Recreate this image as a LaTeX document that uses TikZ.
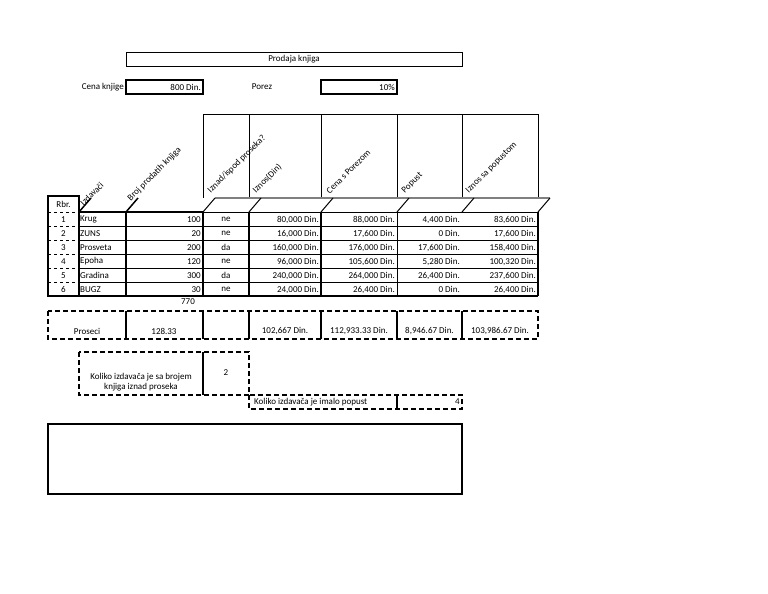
\documentclass[tikz,border=0pt]{standalone}
\usepackage{fontspec}
\setmainfont{Carlito}
\begin{document}
\begin{tikzpicture}[x=1pt,y=-1pt,font=\fontsize{9}{10}\selectfont,
  thk/.style={line width=1.2pt},
  dsh/.style={line width=1.2pt,dash pattern=on 5pt off 3pt},
  thn/.style={line width=0.5pt},
  hd/.style={rotate=45,anchor=south west,inner sep=1pt}]
\useasboundingbox (0,0) rectangle (768,594);
% title
\draw[thn] (126,52) rectangle (462,66);
\node (title) at (294,59) {Prodaja knjiga};
\node[anchor=east,inner sep=1pt] (cl) at (125,87) {Cena knjige};
\draw[thk] (126,80) rectangle (203,94);
\node[anchor=east,inner sep=1pt] (cv) at (202,87) {800 Din.};
\node (pl) at (262,87) {Porez};
\draw[thk] (321,80) rectangle (397,94);
\node[anchor=east,inner sep=1pt] (pv) at (396,87) {10\%};
% header boxes
\foreach \x in {203,249,321,397,462,538} \draw[thn] (\x,114) -- (\x,198);
\draw[thn] (203,114) -- (538,114);
\draw[gray,line width=1.5pt] (215,198) -- (550,198);
\foreach \x in {203,249,321,397,462,538} \draw[line width=1pt] (\x,212) -- (\x+12,198);
\foreach \x in {79,126} \draw[line width=1.5pt] (\x,212) -- (\x+12,198);
\node[hd] (h1) at (84,208) {Izdavači};
\node[hd] (h2) at (132,204) {Broj prodatih knjiga};
\node[hd] (h3) at (212,196) {Iznad/ispod proseka?};
\node[hd] (h4) at (257,196) {Iznos(Din)};
\node[hd] (h5) at (330,196) {Cena s Porezom};
\node[hd] (h6) at (406,196) {Popust};
\node[hd] (h7) at (470,196) {Iznos sa popustom};
\draw[thk] (48,196) rectangle (79,296);
\node (rbr) at (63.5,204) {Rbr.};
% table grid
\foreach \y in {226,240,254,268,282} \draw[thn] (79,\y) -- (538,\y);
\foreach \y in {212,226,240,254,268,282} \draw[thn,dashed] (48,\y) -- (79,\y);
\draw[thn] (79,212) -- (538,212);
\draw[thk] (79,296) -- (538,296);
\draw[thk] (126,212) -- (126,296);
\draw[thk] (203,212) -- (203,296);
\draw[thk] (249,212) -- (249,296);
\draw[thk] (321,212) -- (321,296);
\draw[thn] (397,212) -- (397,296);
\draw[thk] (538,212) -- (538,296);
\draw[thk] (79,212) -- (203,212);
\foreach \i/\n/\b/\c/\d/\e/\f/\g [count=\k] in {
 1/Krug/100/ne/{80,000}/{88,000}/{4,400}/{83,600},
 2/ZUNS/20/ne/{16,000}/{17,600}/0/{17,600},
 3/Prosveta/200/da/{160,000}/{176,000}/{17,600}/{158,400},
 4/Epoha/120/ne/{96,000}/{105,600}/{5,280}/{100,320},
 5/Gradina/300/da/{240,000}/{264,000}/{26,400}/{237,600},
 6/BUGZ/30/ne/{24,000}/{26,400}/0/{26,400}}{
 \pgfmathsetmacro\yy{205.5+14*\k}
 \node (r\k) at (63.5,\yy) {\i};
 \node[anchor=west,inner sep=1pt] (n\k) at (79,\yy) {\n};
 \node[anchor=east,inner sep=1pt] (b\k) at (202,\yy) {\b};
 \node (c\k) at (226,\yy) {\c};
 \node[anchor=east,inner sep=1pt] (d\k) at (320,\yy) {\d{} Din.};
 \node[anchor=east,inner sep=1pt] (e\k) at (396,\yy) {\e{} Din.};
 \node[anchor=east,inner sep=1pt] (f\k) at (461,\yy) {\f{} Din.};
 \node[anchor=east,inner sep=1pt] (g\k) at (537,\yy) {\g{} Din.};
}
\node (sum) at (188,302) {770};
% averages
\draw[dsh] (48,311) rectangle (538,339);
\foreach \x in {126,203,321,397,462} \draw[thk] (\x,311) -- (\x,339);
\draw[thk] (249,311) -- (249,339);
\node (p0) at (87,331) {Proseci};
\node (p1) at (164,331) {128.33};
\node (p4) at (285,331) {102,667 Din.};
\node (p5) at (359,331) {112,933.33 Din.};
\node (p6) at (429.5,331) {8,946.67 Din.};
\node (p7) at (500,331) {103,986.67 Din.};
% koliko
\draw[dsh] (79,352) rectangle (249,395);
\draw[thk] (203,352) -- (203,395);
\node[align=center,inner sep=1pt] (k1) at (141,382) {Koliko izdavača je sa brojem\\knjiga iznad proseka};
\node (k2) at (226,373) {2};
\draw[dsh] (249,395) rectangle (462,409);
\draw[thk] (397,395) -- (397,409);
\node[anchor=west,inner sep=2pt] (k3) at (252,402) {Koliko izdavača je imalo popust};
\node[anchor=east,inner sep=1pt] (k4) at (461,402) {4};
\draw[thk] (48,424) rectangle (462,494);
\end{tikzpicture}
\end{document}
